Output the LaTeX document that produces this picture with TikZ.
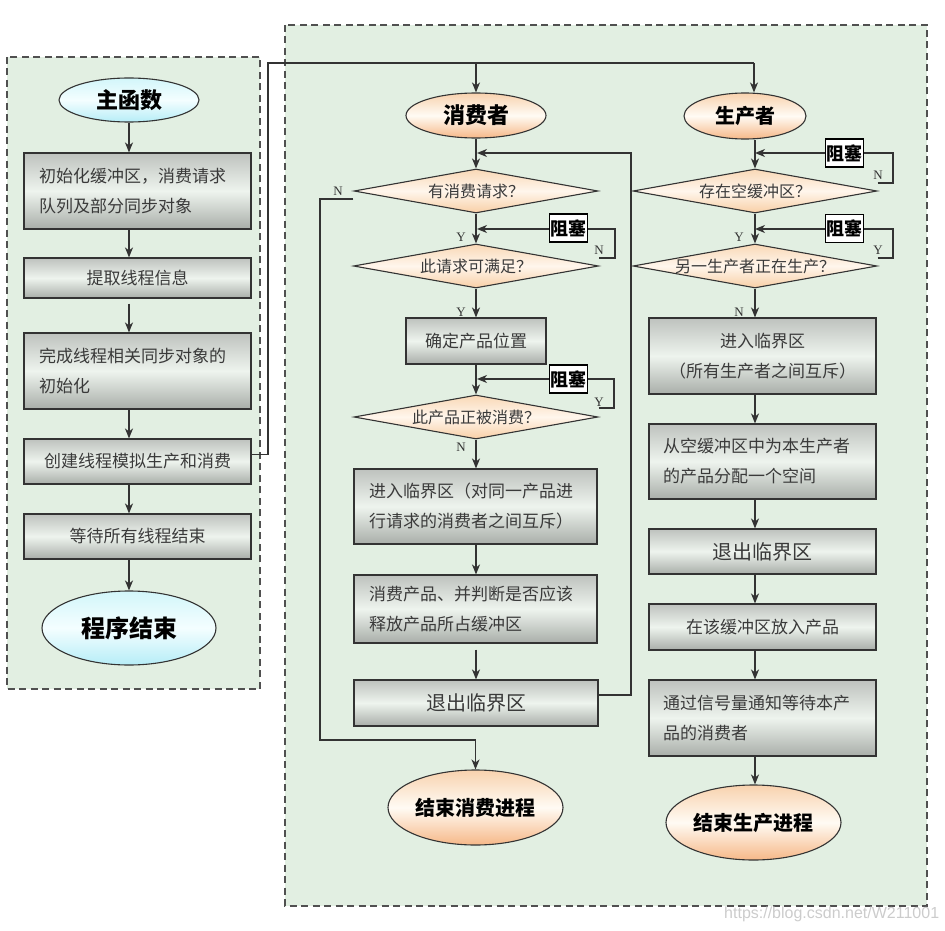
\documentclass[tikz,border=0pt]{standalone}
\usepackage{fontspec}
\setmainfont{Liberation Serif}
\newfontfamily\cjk{Noto Sans CJK SC}
\newfontfamily\wmfont{Liberation Sans}
\usetikzlibrary{shapes.geometric,arrows.meta,calc}
\definecolor{panelgreen}{HTML}{E2EFE2}
\definecolor{panelline}{HTML}{505050}
\definecolor{linecol}{HTML}{333333}
\definecolor{boxtop}{HTML}{BEC2BE}
\definecolor{boxmid}{HTML}{EEF4EE}
\definecolor{boxbot}{HTML}{A9AEA9}
\definecolor{boxtext}{HTML}{3A3A3A}
\definecolor{orgtop}{HTML}{F8D2AE}
\definecolor{orgmid}{HTML}{FFFBF4}
\definecolor{orgbot}{HTML}{F6B888}
\definecolor{dmtop}{HTML}{F9D8B6}
\definecolor{dmmid}{HTML}{FFF6EC}
\definecolor{dmbot}{HTML}{F8CFA6}
\definecolor{cytop}{HTML}{D2F6FA}
\definecolor{cymid}{HTML}{F4FEFF}
\definecolor{cybot}{HTML}{B6EDF7}
\begin{document}
\begin{tikzpicture}[x=1pt,y=-1pt,
  panel/.style={draw=panelline, fill=panelgreen, dash pattern=on 7pt off 4.5pt, line width=1.4pt},
  line/.style={draw=linecol, line width=1.2pt},
  arr/.style={line, -{Stealth[length=10pt,width=8pt,inset=3pt]}},
  gbox/.style={draw=linecol, line width=1.1pt, top color=boxtop, bottom color=boxbot, middle color=boxmid,
    inner sep=0pt, text=boxtext, font=\cjk\fontsize{17}{30}\selectfont},
  lbox/.style={gbox, align=left},
  cbox/.style={gbox, align=center},
  dmd/.style={diamond, draw=linecol, line width=1.1pt, top color=dmtop, bottom color=dmbot, middle color=dmmid,
    inner sep=0pt, aspect=5.5, minimum width=244pt, minimum height=44pt, text=boxtext, font=\cjk\fontsize{16}{16}\selectfont},
  oell/.style={ellipse, draw=linecol, line width=1.1pt, top color=orgtop, bottom color=orgbot, middle color=orgmid,
    inner sep=0pt, text=black, font=\cjk\bfseries\fontsize{20}{20}\selectfont},
  cell/.style={ellipse, draw=linecol, line width=1.1pt, top color=cytop, bottom color=cybot, middle color=cymid,
    inner sep=0pt, text=black, font=\cjk\bfseries\fontsize{22}{22}\selectfont},
  blk/.style={draw=black, line width=1.1pt, fill=white, inner xsep=1pt, inner ysep=0pt, minimum height=28pt,
    font=\cjk\bfseries\fontsize{18}{18}\selectfont},
  yn/.style={inner sep=0pt, text=linecol, font=\fontsize{13}{13}\selectfont}]
\useasboundingbox (0,0) rectangle (945,931);

% panels
\path[panel] (7,57) rectangle (260,689);
\path[panel] (285,25) rectangle (927,906);

% ---------- left column ----------
\node[cell, minimum width=140pt, minimum height=44pt] (m0) at (129,100) {主函数};
\node[lbox, minimum width=227pt, minimum height=76pt, text width=197pt] (m1) at (137.5,191) {初始化缓冲区，消费请求\\队列及部分同步对象};
\node[cbox, minimum width=227pt, minimum height=40pt] (m2) at (137.5,278) {提取线程信息};
\node[lbox, minimum width=227pt, minimum height=76pt, text width=197pt] (m3) at (137.5,371) {完成线程相关同步对象的\\初始化};
\node[cbox, minimum width=227pt, minimum height=45pt] (m4) at (137.5,461.5) {创建线程模拟生产和消费};
\node[cbox, minimum width=227pt, minimum height=45pt] (m5) at (137.5,536.5) {等待所有线程结束};
\node[cell, minimum width=174pt, minimum height=74pt, font=\cjk\bfseries\fontsize{24}{24}\selectfont] (m6) at (129,628) {程序结束};

% ---------- consumer column ----------
\node[oell, minimum width=140pt, minimum height=45pt, font=\cjk\bfseries\fontsize{22}{22}\selectfont] (c0) at (476,115.5) {消费者};
\node[dmd] (cd1) at (476,191) {\makebox[0pt]{有消费请求？}};
\node[dmd, minimum width=245pt] (cd2) at (476,266) {\makebox[0pt]{此请求可满足？}};
\node[cbox, minimum width=140pt, minimum height=46pt] (cb1) at (476,341) {确定产品位置};
\node[dmd] (cd3) at (476,417) {\makebox[0pt]{此产品正被消费？}};
\node[lbox, minimum width=243pt, minimum height=75pt, text width=213pt] (cb2) at (475.5,506.5) {进入临界区（对同一产品进\\行请求的消费者之间互斥）};
\node[lbox, minimum width=243pt, minimum height=68pt, text width=213pt] (cb3) at (475.5,609) {消费产品、并判断是否应该\\释放产品所占缓冲区};
\node[cbox, minimum width=244pt, minimum height=46pt, font=\cjk\fontsize{20}{20}\selectfont] (cb4) at (476,703) {退出临界区};
\node[oell, minimum width=175pt, minimum height=75pt] (c9) at (475.5,807.5) {结束消费进程};

% ---------- producer column ----------
\node[oell, minimum width=122pt, minimum height=46pt] (p0) at (745,116) {生产者};
\node[dmd] (pd1) at (755,191) {\makebox[0pt]{存在空缓冲区？}};
\node[dmd] (pd2) at (755,266) {\makebox[0pt]{另一生产者正在生产？}};
\node[cbox, minimum width=227pt, minimum height=76pt] (pb1) at (762.5,356) {进入临界区\\（所有生产者之间互斥）};
\node[lbox, minimum width=227pt, minimum height=75pt, text width=199pt] (pb2) at (762.5,461.5) {从空缓冲区中为本生产者\\的产品分配一个空间};
\node[cbox, minimum width=227pt, minimum height=45pt, font=\cjk\fontsize{20}{20}\selectfont] (pb3) at (762.5,551.5) {退出临界区};
\node[cbox, minimum width=227pt, minimum height=46pt] (pb4) at (762.5,627) {在该缓冲区放入产品};
\node[lbox, minimum width=227pt, minimum height=76pt, text width=199pt] (pb5) at (762.5,718) {通过信号量通知等待本产\\品的消费者};
\node[oell, minimum width=175pt, minimum height=75pt] (p9) at (753.5,822.5) {结束生产进程};

% ---------- coordinates ----------
\coordinate (bus) at (268,63);
\coordinate (busR) at (754,63);
\coordinate (cj1) at (477,153);
\coordinate (cl1) at (631,153);
\coordinate (cj2) at (477,229);
\coordinate (cl2) at (615,229);
\coordinate (cj3) at (477,379);
\coordinate (cl3) at (614,379);
\coordinate (cn) at (320,740);
\coordinate (pj1) at (755,153);
\coordinate (pl1) at (893,153);
\coordinate (pj2) at (755,229);
\coordinate (pl2) at (893,229);

% ---------- left connectors ----------
\draw[arr] (m0.south) -- (m0.south |- m1.north);
\draw[arr] (m0.south |- m1.south) -- (m0.south |- m2.north);
\draw[arr] ($(m0.south |- m2.south)+(0,5)$) -- (m0.south |- m3.north);
\draw[arr] (m0.south |- m3.south) -- (m0.south |- m4.north);
\draw[arr] (m0.south |- m4.south) -- (m0.south |- m5.north);
\draw[arr] (m0.south |- m5.south) -- (m6.north);

% bus to both threads
\draw[line] ([yshift=7pt]m4.east) -| (bus) -- (busR);
\draw[arr] (busR) -- (busR |- p0.north);
\draw[arr] (c0.north |- bus) -- (c0.north);

% ---------- consumer connectors ----------
\draw[arr] (c0.south) -- (cd1.north);
\draw[arr] (cd1.south) -- (cd2.north);
\draw[arr] (cd2.south) -- (cb1.north);
\draw[arr] (cb1.south) -- (cd3.north);
\draw[arr] (cd3.south) -- (cd3.south |- cb2.north);
\draw[arr] (cd3.south |- cb2.south) -- (cd3.south |- cb3.north);
\draw[arr] ($(cd3.south |- cb3.south)+(0,6)$) -- (cd3.south |- cb4.north);
\draw[arr] ([yshift=8pt]cb4.east) -| (cl1) -- (cj1);
\draw[arr] ([yshift=-8pt]cd1.west) -| (cn) -| (c9.north);
\draw[arr] ([yshift=8pt]cd2.east) -| (cl2) -- (cj2);
\draw[arr] ([yshift=9pt]cd3.east) -| (cl3) -- (cj3);

% ---------- producer connectors ----------
\draw[arr] (p0.south -| pd1.north) -- (pd1.north);
\draw[arr] (pd1.south) -- (pd2.north);
\draw[arr] (pd2.south) -- (pd2.south |- pb1.north);
\draw[arr] (pd2.south |- pb1.south) -- (pd2.south |- pb2.north);
\draw[arr] (pd2.south |- pb2.south) -- (pd2.south |- pb3.north);
\draw[arr] (pd2.south |- pb3.south) -- (pd2.south |- pb4.north);
\draw[arr] (pd2.south |- pb4.south) -- (pd2.south |- pb5.north);
\draw[arr] (pd2.south |- pb5.south) -- (pd2.south |- p9.north);
\draw[arr] ([yshift=8pt]pd1.east) -| (pl1) -- (pj1);
\draw[arr] ([yshift=8pt]pd2.east) -| (pl2) -- (pj2);

% ---------- blocking labels ----------
\node[blk] (bk1) at (568.5,228) {阻塞};
\node[blk] (bk2) at (568.5,379) {阻塞};
\node[blk] (bk3) at (844.5,153) {阻塞};
\node[blk] (bk4) at (844.5,228.5) {阻塞};

% ---------- Y / N labels ----------
\node[yn] (l1) at (338,191) {N};
\node[yn] (l2) at (461,237) {Y};
\node[yn] (l3) at (599,250) {N};
\node[yn] (l4) at (461,312) {Y};
\node[yn] (l5) at (599,402) {Y};
\node[yn] (l6) at (461,447) {N};
\node[yn] (l7) at (878,175) {N};
\node[yn] (l8) at (739,237) {Y};
\node[yn] (l9) at (878,250) {Y};
\node[yn] (l10) at (739,312) {N};

% watermark
\node[anchor=west, inner sep=0pt, text=black!20, font=\wmfont\fontsize{16}{16}\selectfont] (wm) at (724,914) {https://blog.csdn.net/W211001};
\end{tikzpicture}
\end{document}
